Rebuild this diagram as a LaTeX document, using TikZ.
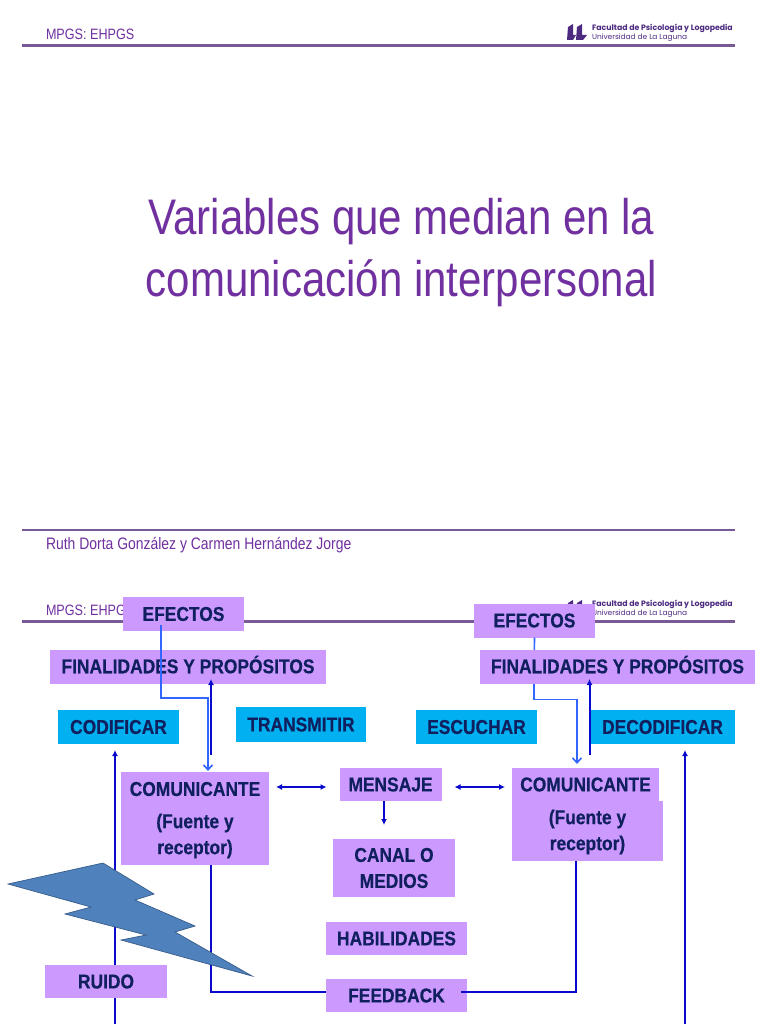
\documentclass[tikz,border=0pt]{standalone}
\usepackage{fontspec}
\setmainfont{Liberation Sans}
\newfontfamily\narrowfont[FakeStretch=0.84]{Liberation Sans}
\newfontfamily\narrowbold[FakeStretch=0.87,FakeBold=0.5]{Liberation Sans Bold}
\newfontfamily\logofont{Poppins}
\definecolor{slidepurple}{HTML}{7030A0}
\definecolor{rulepurple}{HTML}{7A5A96}
\definecolor{boxlilac}{HTML}{CC99FF}
\definecolor{boxcyan}{HTML}{00B0F0}
\definecolor{boxtext}{HTML}{10205F}
\definecolor{darkarrow}{HTML}{0A0ACC}
\definecolor{lightarrow}{HTML}{3366FF}
\definecolor{boltfill}{HTML}{4F81BD}
\definecolor{boltline}{HTML}{385D8A}
\definecolor{logopurple}{HTML}{4B2A80}
\usetikzlibrary{arrows.meta}
\tikzset{
  x=1pt,y=-1pt,
  pix/.style={inner sep=0pt,outer sep=0pt,anchor=center},
  lilac/.style={pix,fill=boxlilac,text=boxtext,font=\narrowbold\fontsize{20}{26}\selectfont,align=center},
  cyanbox/.style={pix,fill=boxcyan,text=boxtext,font=\narrowbold\fontsize{20}{26}\selectfont,align=center},
  plainbold/.style={pix,text=boxtext,font=\narrowbold\fontsize{20}{26}\selectfont,align=center},
  slidetext/.style={pix,text=slidepurple,anchor=west,font=\narrowfont\fontsize{15}{18}\selectfont},
  authortext/.style={pix,text=slidepurple,anchor=west,font=\narrowfont\fontsize{16.6}{20}\selectfont},
  titletext/.style={pix,text=slidepurple,font=\narrowfont\fontsize{50}{62}\selectfont,align=center},
  rulel/.style={draw=rulepurple,line width=2.4pt},
  darkline/.style={draw=darkarrow,line width=2pt},
  darktip/.style={darkline,-{Latex[length=6pt,width=6pt]}},
  darkboth/.style={darkline,{Latex[length=6pt,width=6pt]}-{Latex[length=6pt,width=6pt]}},
  lightline/.style={draw=lightarrow,line width=1.6pt},
  lighttip/.style={lightline,-{Straight Barb[length=5pt,width=9pt]}},
  logotop/.style={pix,anchor=west,text=logopurple,font=\logofont\bfseries\fontsize{7.8}{10}\selectfont},
  logosub/.style={pix,anchor=west,text=logopurple,font=\logofont\fontsize{7.4}{9}\selectfont},
}
\begin{document}
\begin{tikzpicture}
\useasboundingbox (0,0) rectangle (768,1024);
\fill[white] (0,0) rectangle (768,1024);
% first slide
\node[slidetext] (head1) at (46,34) {MPGS: EHPGS};
\coordinate (r1a) at (22,45.5); \coordinate (r1b) at (735,45.5);
\draw[rulel] (r1a) -- (r1b);
\fill[logopurple] (568,27) -- (573,24) -- (573,35) -- (576,35) -- (573,40) -- (567,40) -- cycle;
\fill[logopurple] (577,27) -- (582,24) -- (582,35) -- (587,35) -- (583,40) -- (576,40) -- cycle;
\node[logotop] (logo1a) at (592,28.5) {Facultad de Psicología y Logopedia};
\node[logosub] (logo1b) at (592,38) {Universidad de La Laguna};
\node[titletext] (title) at (401.5,253) {Variables que median en la\\comunicación interpersonal};
\coordinate (r2a) at (22,530); \coordinate (r2b) at (735,530);
\draw[rulel] (r2a) -- (r2b);
\node[authortext] (authors) at (46,545) {Ruth Dorta González y Carmen Hernández Jorge};
% second slide
\node[slidetext] (head2) at (46,610) {MPGS: EHPGS};
\coordinate (r3a) at (22,621.5); \coordinate (r3b) at (735,621.5);
\draw[rulel] (r3a) -- (r3b);
\fill[logopurple] (568,603) -- (573,600) -- (573,611) -- (576,611) -- (573,616) -- (567,616) -- cycle;
\fill[logopurple] (577,603) -- (582,600) -- (582,611) -- (587,611) -- (583,616) -- (576,616) -- cycle;
\node[logotop] (logo2a) at (592,604) {Facultad de Psicología y Logopedia};
\node[logosub] (logo2b) at (592,613.5) {Universidad de La Laguna};
% long lines under the boxes
\coordinate (codbot) at (115,1024);
\coordinate (codtop) at (115,750);
\draw[darktip] (codbot) -- (codtop);
\coordinate (decbot) at (685,1024);
\coordinate (dectop) at (685,750);
\draw[darktip] (decbot) -- (dectop);
% left column boxes
\node[lilac,minimum width=121pt,minimum height=34pt] (efL) at (183.5,614) {EFECTOS};
\node[lilac,minimum width=276pt,minimum height=34pt] (finL) at (188,667) {};
\node[plainbold] (finLt) at (188,664.5) {FINALIDADES Y PROPÓSITOS};
\node[cyanbox,minimum width=121pt,minimum height=34pt] (cod) at (118.5,727) {CODIFICAR};
\node[cyanbox,minimum width=130pt,minimum height=35pt] (tra) at (301,724.5) {TRANSMITIR};
\node[lilac,minimum width=148pt,minimum height=93pt] (comL) at (195,818.5) {};
\node[plainbold] (comLa) at (195,789) {COMUNICANTE};
\node[plainbold] (comLb) at (195,836) {(Fuente y\\receptor)};
\node[lilac,minimum width=122pt,minimum height=33pt] (rui) at (106,981.5) {RUIDO};
% centre boxes
\node[lilac,minimum width=102pt,minimum height=33pt] (men) at (390.5,784.5) {MENSAJE};
\node[lilac,minimum width=122pt,minimum height=58pt] (can) at (394,868) {CANAL O\\MEDIOS};
\node[lilac,minimum width=141pt,minimum height=33pt] (hab) at (396.5,938.5) {HABILIDADES};
\node[lilac,minimum width=141pt,minimum height=33pt] (fee) at (396.5,995.5) {FEEDBACK};
% connectors left
\draw[darktip] ([xshift=16pt,yshift=17pt]comL.north) -- ([xshift=23pt,yshift=5pt]finL.south);
\draw[lighttip] ([xshift=-22.5pt,yshift=6pt]efL.south) |- (208,698) -- ([xshift=13pt,yshift=1pt]comL.north);
\draw[darkline] ([xshift=16pt]comL.south) |- ([yshift=3.5pt]fee.west);
% right side lines drawn under the right boxes
\node[lilac,minimum width=121pt,minimum height=34pt] (efR) at (534.5,620.5) {EFECTOS};
\draw[lightline] (efR.south) -- (534,684);
\draw[lighttip] (534,684) |- (577,699.5) -- (577,764);
\node[lilac,minimum width=275pt,minimum height=34pt] (finR) at (617.5,667) {};
\node[plainbold] (finRt) at (617.5,664.5) {FINALIDADES Y PROPÓSITOS};
\node[cyanbox,minimum width=121pt,minimum height=34pt] (esc) at (476.5,727) {ESCUCHAR};
\node[cyanbox,minimum width=145pt,minimum height=34pt] (dec) at (662.5,727) {DECODIFICAR};
\node[lilac,minimum width=147pt,minimum height=33pt] (comRa) at (585.5,784.5) {COMUNICANTE};
\node[lilac,minimum width=151pt,minimum height=60pt] (comRb) at (587.5,831) {};
\node[plainbold] (comRt) at (587.5,832) {(Fuente y\\receptor)};
\draw[darktip] ([xshift=-28pt,yshift=-71pt]finR.south) -- ([xshift=-28pt,yshift=5pt]finR.south);
\draw[darkline] ([xshift=-11.5pt]comRb.south) |- ([xshift=-6pt,yshift=3.5pt]fee.east);
% short arrows
\draw[darkboth] ([xshift=7pt,yshift=31.5pt]comL.east) -- ([xshift=-13pt,yshift=-2.5pt]men.west);
\draw[darkboth] ([xshift=13pt,yshift=-2.5pt]men.east) -- ([xshift=-7pt,yshift=-2.5pt]comRa.west);
\draw[darktip] ([xshift=-6.5pt]men.south) -- ([xshift=-6.5pt,yshift=-24pt]men.south);
% bolt
\filldraw[fill=boltfill,draw=boltline,line width=0.7pt,line join=miter]
  (8,884) -- (103,863) -- (154,894) -- (135,900) -- (195,926) -- (175,932) -- (252,976)
  -- (121,940) -- (146,935) -- (65,914) -- (91,907) -- cycle;
\end{tikzpicture}
\end{document}
